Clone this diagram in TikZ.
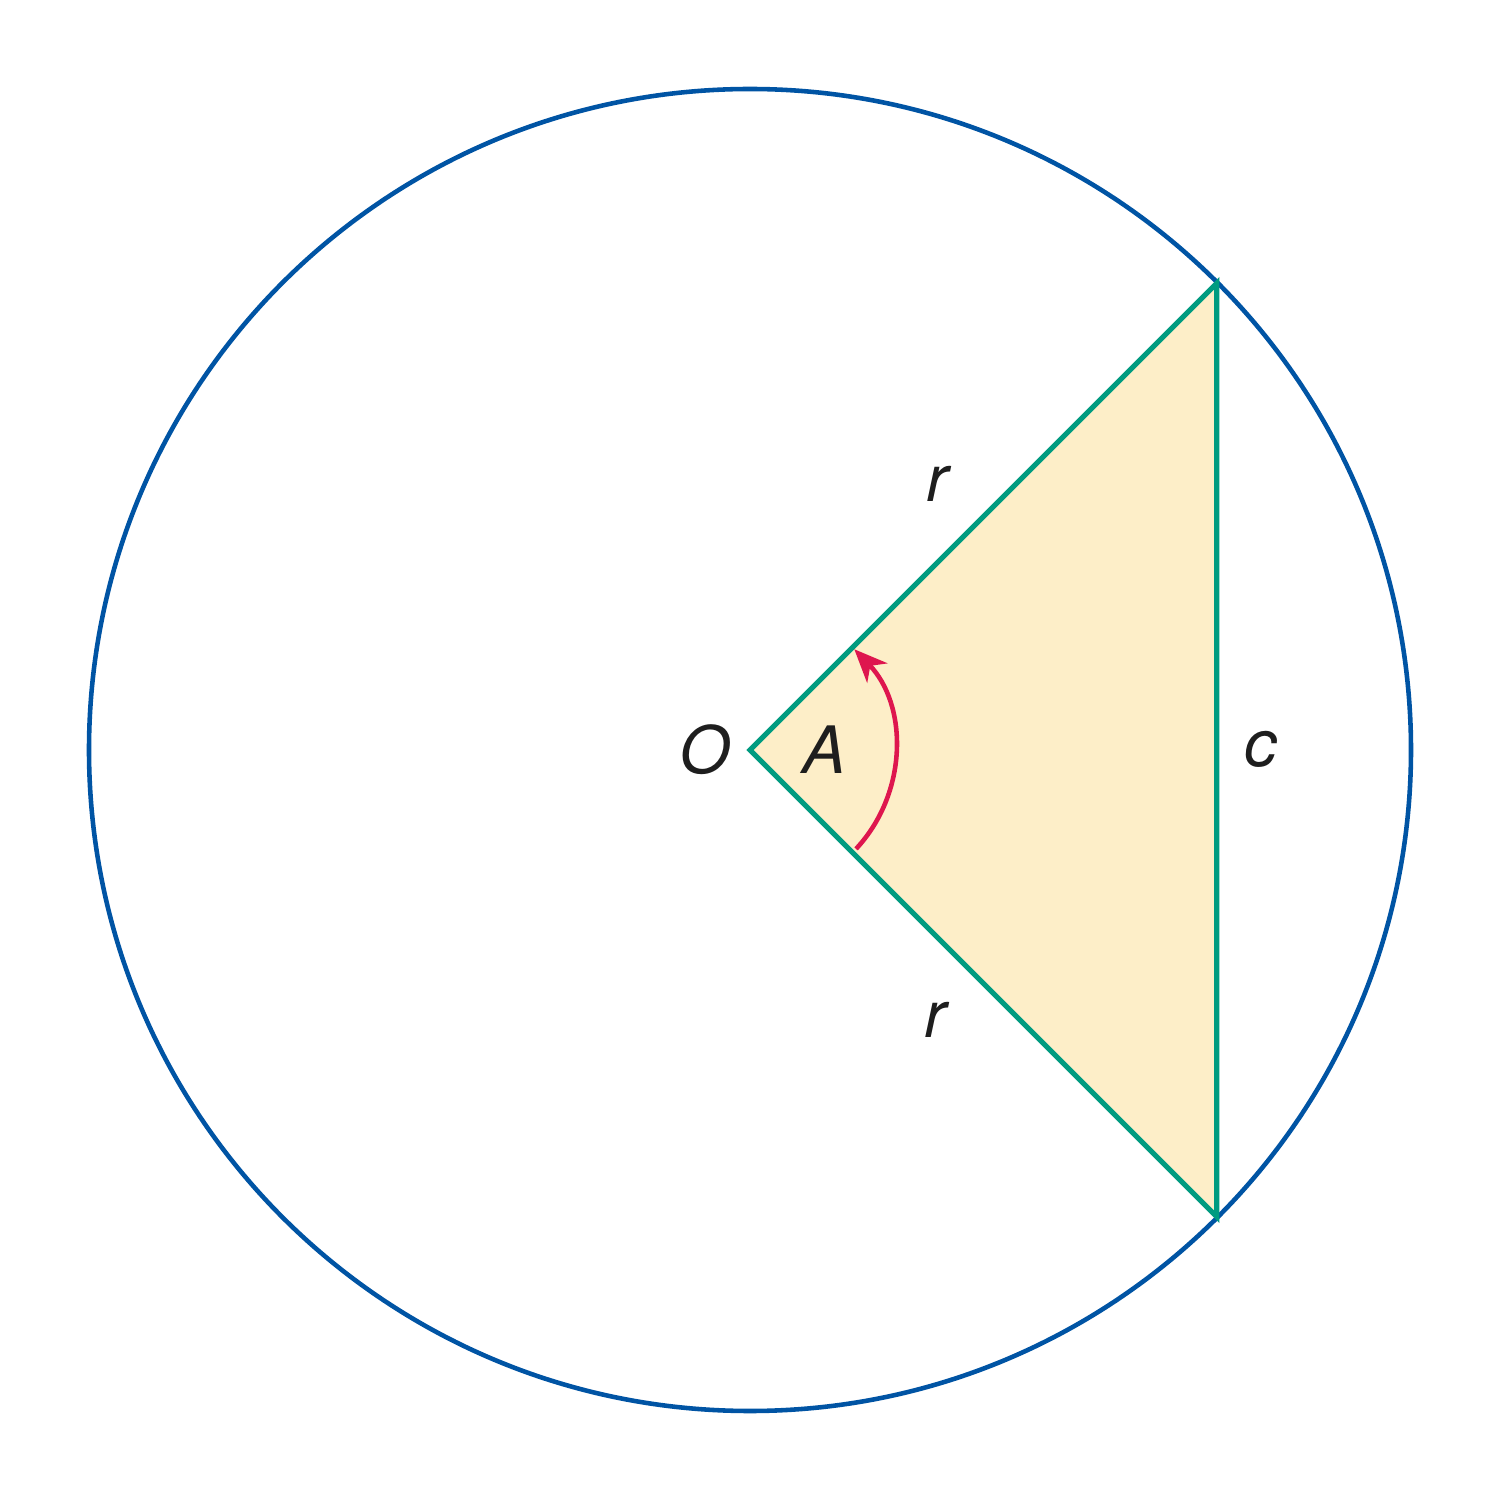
\documentclass[tikz,border=0pt]{standalone}
\usepackage{fontspec}
\setmainfont{TeX Gyre Heros}
\usetikzlibrary{arrows.meta,calc}
\definecolor{circblue}{RGB}{0,84,164}
\definecolor{trigreen}{RGB}{0,155,128}
\definecolor{trifill}{RGB}{253,238,200}
\definecolor{arcred}{RGB}{222,22,78}
\definecolor{txt}{RGB}{30,30,30}
\tikzset{
  lbl/.style={anchor=base, inner sep=0pt, text=txt, font=\fontsize{18.6}{22}\selectfont\itshape},
  circline/.style={draw=circblue, line width=1.3pt},
  triline/.style={draw=trigreen, line width=1.5pt, line join=miter, fill=trifill},
  anglearc/.style={draw=arcred, line width=1.3pt, -{Stealth[length=3.3mm, width=2.8mm, inset=1mm]}}
}
\begin{document}
\begin{tikzpicture}
\useasboundingbox (0,0) rectangle (15,15);
\fill[white] (0,0) rectangle (15,15);
\coordinate (O) at (7.5,7.5);
\coordinate (P) at ($(O)+(45:6.6)$);
\coordinate (Q) at ($(O)+(-45:6.6)$);
\draw[circline] (O) circle (6.61);
\path[triline] (O) -- (P) -- (Q) -- cycle;
\draw[anglearc] ($(O)+(-43:1.45)$) arc (-43:44:1.45);
\node[lbl] (lO) at (7.05,7.26) {O};
\node[lbl] (lA) at (8.24,7.26) {A};
\node[lbl] (lr1) at (9.37,9.98) {r};
\node[lbl] (lr2) at (9.35,4.62) {r};
\node[lbl] (lc) at (12.61,7.33) {c};
\end{tikzpicture}
\end{document}
